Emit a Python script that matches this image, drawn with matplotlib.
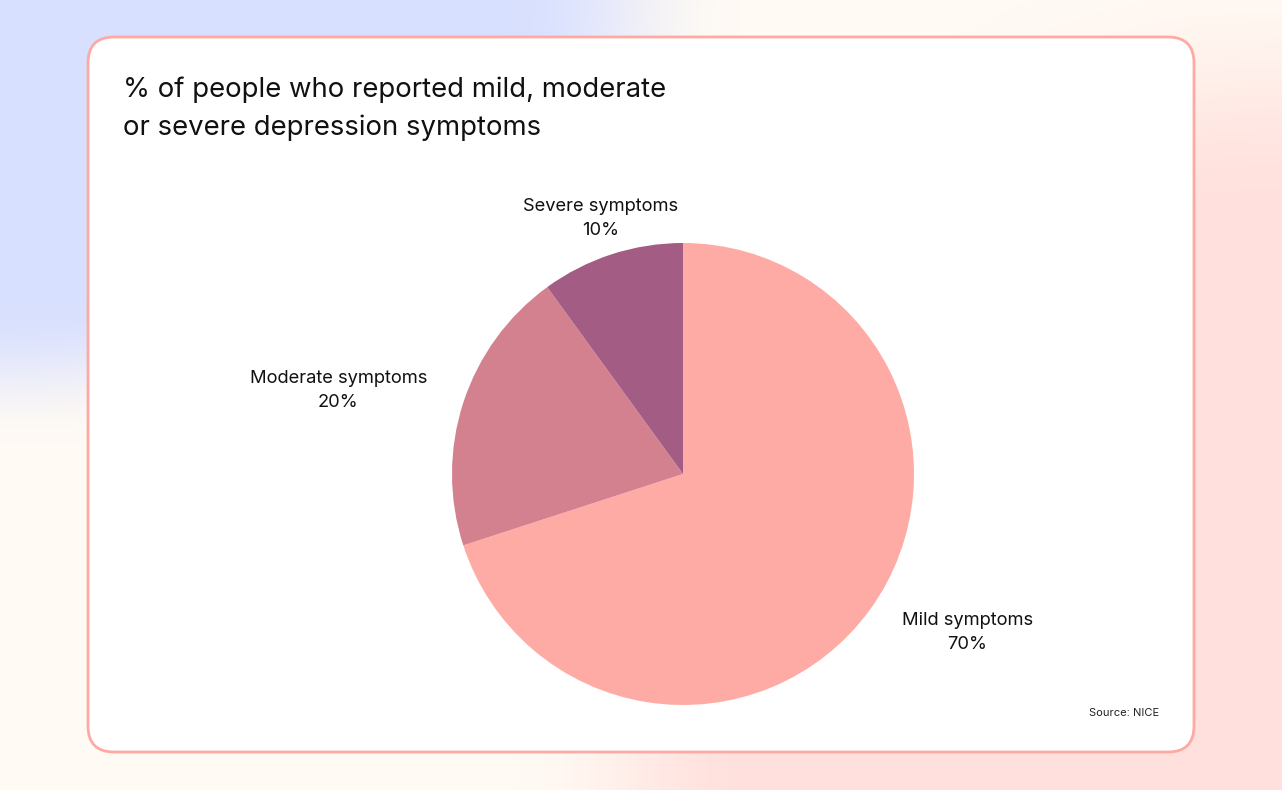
import numpy as np
import matplotlib
matplotlib.use("Agg")
import matplotlib.pyplot as plt
from matplotlib.patches import FancyBboxPatch

plt.rcParams['font.family'] = ['Inter', 'DejaVu Sans']

# ---- data ----
categories = ["Mild symptoms", "Moderate symptoms", "Severe symptoms"]
values = [70, 20, 10]
colors = ["#FFABA5", "#D4818F", "#A35C83"]
title = "% of people who reported mild, moderate\nor severe depression symptoms"
source = "Source: NICE"

W, H = 1282, 790
fig = plt.figure(figsize=(W / 100, H / 100), dpi=100)

# ---- background gradient ----
bg = fig.add_axes([0, 0, 1, 1])
yy, xx = np.mgrid[0:H, 0:W].astype(float)
cream = np.array([255, 250, 244]) / 255
blue = np.array([216, 224, 255]) / 255
pink = np.array([255, 224, 220]) / 255


def smooth(t):
    t = np.clip(t, 0, 1)
    return t * t * (3 - 2 * t)


d_blue = np.sqrt((xx / 650) ** 2 + (yy / 390) ** 2)
w_blue = smooth((1.14 - d_blue) / 0.36)
d_pink = np.sqrt(((W - xx) / 700) ** 2 + ((H - yy) / 760) ** 2)
w_pink = smooth((1.1 - d_pink) / 0.35)
img = np.ones((H, W, 3)) * cream
img = img * (1 - w_blue[..., None]) + blue * w_blue[..., None]
img = img * (1 - w_pink[..., None]) + pink * w_pink[..., None]
bg.imshow(img, extent=[0, W, H, 0], aspect='auto')
bg.set_xlim(0, W)
bg.set_ylim(H, 0)
bg.axis('off')

# ---- card ----
card = FancyBboxPatch((88, 37), 1106, 715, boxstyle="round,pad=0,rounding_size=26",
                      facecolor="white", edgecolor="#FFA9A4", linewidth=2.0, zorder=2)
bg.add_patch(card)

bg.text(123, 109, title, fontsize=19.8, color="#111111", ha='left', va='center',
        linespacing=1.58, zorder=3)
bg.text(1159, 713, source, fontsize=8, color="#222222", ha='right', va='center', zorder=3)

# ---- pie ----
cx, cy, r = 683, 474, 231
pie_ax = fig.add_axes([(cx - r) / W, (H - cy - r) / H, 2 * r / W, 2 * r / H])
wedges, _ = pie_ax.pie(values, colors=colors, startangle=90, counterclock=False,
                       radius=1, wedgeprops=dict(linewidth=0))
pie_ax.set_xlim(-1, 1)
pie_ax.set_ylim(-1, 1)
pie_ax.set_aspect('equal')
pie_ax.axis('off')

label_dist = [1.17, 1.165, 1.07]
for w, cat, v, dist in zip(wedges, categories, values, label_dist):
    ang = np.deg2rad((w.theta1 + w.theta2) / 2)
    x, y = dist * np.cos(ang), dist * np.sin(ang)
    c, s = np.cos(ang), np.sin(ang)
    ha = 'left' if c > 0.4 else ('right' if c < -0.4 else 'center')
    va = 'bottom' if s > 0.7 else ('top' if s < -0.7 else 'center')
    if ha == 'center':
        x -= 0.025
    pie_ax.text(x, y, f"{cat}\n{v}%", ha=ha, va=va, multialignment='center',
                fontsize=13.2, color="#111111", linespacing=1.55, clip_on=False)

fig.savefig("out.png", dpi=100)
